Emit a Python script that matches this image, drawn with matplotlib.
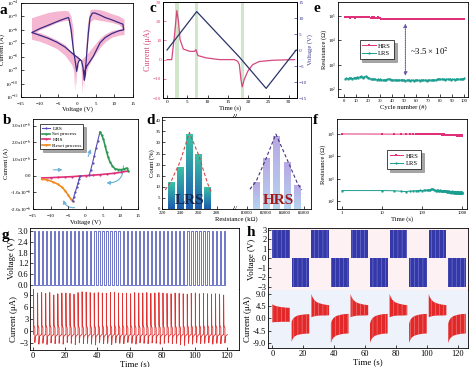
import numpy as np
import matplotlib
matplotlib.use('Agg')
import matplotlib.pyplot as plt
from matplotlib.patches import FancyArrowPatch
from matplotlib.colors import LinearSegmentedColormap

plt.rcParams['font.family'] = ['Liberation Serif', 'DejaVu Serif']
plt.rcParams['mathtext.fontset'] = 'stix'
plt.rcParams['xtick.direction'] = 'in'
plt.rcParams['ytick.direction'] = 'in'
plt.rcParams['xtick.major.size'] = 2
plt.rcParams['ytick.major.size'] = 2
plt.rcParams['xtick.minor.size'] = 1
plt.rcParams['ytick.minor.size'] = 1
plt.rcParams['xtick.major.width'] = 0.5
plt.rcParams['ytick.major.width'] = 0.5
plt.rcParams['axes.linewidth'] = 0.6
plt.rcParams['xtick.major.pad'] = 1.5
plt.rcParams['ytick.major.pad'] = 1.2
plt.rcParams['hatch.linewidth'] = 0.4

# ---------------- data ----------------
# (a) I-V, log current
a_dark_v = [0.8, -0.08, -1.42, -3.2, -5.44, -7.67, -9.9, -12.1, -9.9, -7.67, -5.9, -4.1, -2.31, -2.13, -1.6,
            -0.97, -0.45, -0.08, 0.25, 0.7, 1.2, 1.6, 1.98, 2.34, 2.69, 3.05, 3.5, 4.12, 4.84, 6.18, 7.52,
            9.3, 11.1, 12.3, 12.5, 11.1, 9.3, 7.52, 6.18, 5.28, 4.39, 3.5, 2.6, 2.2, 1.98]
a_dark_log = [-8.21, -8.01, -7.71, -7.28, -6.91, -6.63, -6.41, -6.2, -5.9, -5.65, -5.45, -5.25, -5.08, -5.2,
              -5.96, -7.46, -8.4, -9.09, -8.5, -8.2, -8.3, -8.8, -9.72, -8.71, -7.46, -6.21, -5.08, -4.75,
              -4.75, -4.9, -5.08, -5.25, -5.45, -5.58, -6.0, -6.08, -6.28, -6.58, -6.96, -7.46, -7.96,
              -8.34, -8.71, -9.0, -9.72]
a_band_ul_v = [-12.2, -10, -7.7, -5.4, -3.2, -2.3, -1.6, -1.0]
a_band_ul_lo = [-6.4, -6.0, -5.75, -5.45, -5.3, -5.3, -6.5, -8.0]
a_band_ul_hi = [-5.1, -4.9, -4.7, -4.6, -4.55, -4.6, -5.0, -6.0]
a_band_ll_v = [-12.2, -10, -7.7, -5.4, -3.2, -1.4, -0.6, 0.3]
a_band_ll_lo = [-6.7, -6.85, -7.1, -7.4, -7.9, -8.6, -9.3, -8.8]
a_band_ll_hi = [-6.1, -6.2, -6.45, -6.75, -7.1, -7.7, -8.0, -7.9]
a_band_ur_v = [2.3, 2.8, 3.5, 4.5, 6.2, 7.5, 9.3, 11.1, 12.6]
a_band_ur_lo = [-8.5, -7.0, -5.4, -5.2, -5.3, -5.35, -5.45, -5.6, -5.95]
a_band_ur_hi = [-7.5, -5.5, -4.5, -4.45, -4.5, -4.6, -4.8, -4.95, -5.2]
a_band_lr_v = [1.2, 2.0, 3.0, 4.4, 6.2, 7.5, 9.3, 11.1, 12.6]
a_band_lr_lo = [-9.6, -9.6, -8.7, -8.0, -7.3, -6.9, -6.55, -6.4, -6.35]
a_band_lr_hi = [-8.2, -8.0, -7.7, -7.2, -6.6, -6.3, -6.05, -5.95, -5.8]
a_spike_v = [-0.5, -0.2, 1.5, 1.9]
a_spike_log = [-10.6, -10.2, -10.8, -10.4]

# (b) linear I-V (uA)
b_lrs_neg_v = [-3.7, -3.3, -2.9, -2.5, -2.1, -1.8, -1.5]
b_lrs_neg_i = [-1.52, -1.25, -0.97, -0.7, -0.42, -0.2, 0.0]
b_lrs_pos_v = [1.1, 1.5, 2.0, 2.5, 3.0, 3.5, 4.1]
b_lrs_pos_i = [0.05, 0.35, 0.75, 1.2, 1.65, 2.1, 2.6]
b_set_v = [4.1, 4.6, 5.1, 5.6, 6.05, 6.5, 7.0, 7.7, 8.4, 9.3, 10.2, 11.0, 11.8, 12.2]
b_set_i = [2.6, 2.45, 2.2, 1.8, 1.41, 1.1, 0.81, 0.58, 0.42, 0.37, 0.36, 0.4, 0.46, 0.3]
b_hrs_v = [-12.5, -10, -8, -6, -4, -2, 0, 2, 4, 6, 8, 10, 12.2]
b_hrs_i = [-0.14, -0.12, -0.1, -0.08, -0.06, -0.03, 0.0, 0.03, 0.06, 0.1, 0.14, 0.2, 0.28]
b_reset_v = [-12.5, -11, -9.2, -8, -6.8, -5.8, -4.9, -4.2, -3.7]
b_reset_i = [-0.2, -0.25, -0.38, -0.5, -0.68, -0.9, -1.18, -1.4, -1.52]

# (c) time response
c_t = [0, 1.15, 1.8, 2.4, 2.8, 3.2, 4.0, 5.6, 6.8, 7.1, 7.6, 9.6, 12.9, 16.6, 17.4, 17.8, 18.2, 18.5,
       19.0, 19.9, 21.1, 22.7, 26.0, 31.4]
c_i = [0, 0, 12, 25.5, 20, 10.4, 5.5, 4.3, 4.3, 5.2, 2.1, 0.9, 0, 0, -0.9, -2.6, -10.4, -14.2, -10.4,
       -6, -2.6, -1, -0.35, 0]
c_vt = [0, 7.3, 17.8, 24.4, 31.8]
c_vv = [0, 12, -2.2, -12, 0]
c_bands = [(2.0, 2.9), (6.8, 7.7), (18.1, 18.9)]

# (d) histograms
d_lrs_bins = [230, 240, 250, 260, 270]
d_lrs_counts = [12, 19, 34, 25, 10]
d_hrs_bins = [81000, 82050, 83150, 84250, 85300]
d_hrs_counts = [12, 23, 33, 21, 11]
d_lrs_fit_x = [223.6, 230, 240, 250, 260, 270, 274.5]
d_lrs_fit_y = [8.6, 12.5, 21.5, 34.5, 24.5, 11.5, 7.2]
d_hrs_fit_x = [80350, 81000, 82050, 83050, 84250, 85300, 85750]
d_hrs_fit_y = [8.9, 12.5, 23, 33.8, 22, 11.5, 8.6]

# (e) cycling
e_cycles = list(range(1, 101))
e_hrs = [88000, 86000, 87000, 86000, 85000, 87000, 86000, 86000, 85000, 87000,
         86000, 88000, 87000, 86000, 88000, 87000, 86000, 88000, 89000, 87000,
         86000, 85000, 86000, 85000, 86000, 84000, 85000, 86000, 85000, 84000,
         74000, 73000, 74000, 73000, 73000, 72000, 73000, 74000, 73000, 73000,
         72000, 73000, 73000, 74000, 73000, 72000, 73000, 73000, 72000, 73000,
         73000, 74000, 73000, 72000, 73000, 73000, 72000, 73000, 74000, 73000,
         73000, 72000, 73000, 73000, 74000, 73000, 72000, 73000, 73000, 72000,
         73000, 74000, 73000, 73000, 72000, 73000, 74000, 73000, 72000, 73000,
         73000, 74000, 73000, 72000, 73000, 73000, 72000, 73000, 74000, 73000,
         73000, 72000, 73000, 74000, 73000, 73000, 72000, 73000, 74000, 73000]
e_lrs = [270, 280, 265, 275, 290, 280, 270, 285, 295, 300,
         310, 300, 320, 335, 310, 300, 325, 340, 310, 290,
         280, 260, 255, 250, 260, 255, 245, 250, 240, 250,
         245, 240, 235, 245, 240, 250, 265, 255, 245, 240,
         235, 240, 245, 235, 230, 240, 235, 245, 240, 230,
         225, 235, 230, 240, 225, 230, 235, 225, 230, 235,
         240, 230, 225, 235, 230, 240, 235, 230, 225, 235,
         240, 235, 230, 245, 240, 235, 250, 255, 260, 250,
         255, 260, 250, 245, 255, 260, 250, 255, 245, 250,
         255, 245, 250, 260, 255, 250, 260, 265, 270, 275]

# (f) retention
f_time = [1] + list(range(10, 1001, 10))
f_hrs = [97000, 96000, 95000, 96000, 95000, 96000, 95000, 94000, 95000, 96000, 95000,
         95000, 96000, 94000, 95000, 97000, 96000, 95000, 94000, 96000, 95000,
         94000, 95000, 93000, 94000, 95000, 93000, 92000, 94000, 93000, 92000,
         91000, 92000, 90000, 91000, 92000, 90000, 89000, 91000, 90000, 89000,
         88000, 90000, 89000, 88000, 87000, 89000, 88000, 87000, 86000, 88000,
         87000, 86000, 88000, 86000, 85000, 87000, 86000, 85000, 86000, 84000,
         85000, 86000, 84000, 85000, 83000, 85000, 84000, 83000, 85000, 84000,
         83000, 84000, 82000, 84000, 83000, 82000, 84000, 83000, 82000, 83000,
         82000, 84000, 83000, 81000, 83000, 82000, 81000, 83000, 82000, 81000,
         82000, 83000, 81000, 82000, 80000, 82000, 81000, 83000, 81000, 80000]
f_lrs = [300, 300, 295, 280, 270, 285, 290, 295, 300, 305, 300,
         310, 305, 315, 320, 310, 330, 345, 360, 340, 320,
         310, 300, 305, 295, 310, 300, 290, 305, 295, 300,
         290, 295, 285, 300, 290, 280, 295, 285, 275, 280,
         270, 285, 265, 275, 260, 280, 265, 270, 255, 260,
         270, 250, 265, 245, 260, 275, 250, 240, 260, 270,
         250, 235, 255, 265, 240, 230, 250, 270, 245, 235,
         260, 240, 225, 250, 270, 245, 230, 255, 240, 225,
         250, 265, 235, 225, 250, 240, 230, 255, 235, 230,
         245, 260, 230, 225, 250, 235, 240, 255, 230, 240]

# (g) pulse train
g_starts = [0.5, 3.0, 5.5, 8.0, 10.5, 13.0, 15.5, 18.0, 20.5, 23.0, 25.5, 28.0, 30.5, 33.0, 35.5, 38.0,
            40.5, 43.0, 45.5, 48.0, 50.5, 53.0, 55.5, 58.0, 60.5, 63.0, 65.5, 68.0, 70.5, 73.0, 75.5, 78.0,
            80.5, 83.0, 85.5, 88.0, 90.5, 93.0, 95.5, 98.0, 100.5, 103.0, 105.5, 108.0, 110.5, 113.0,
            115.5, 118.0]
g_peaks = [10.5, 9.5, 9.6, 9.4, 9.6, 9.0, 9.3, 9.5, 9.5, 9.4, 9.2, 9.6, 9.8, 9.7, 9.6, 9.5,
           9.6, 9.5, 9.4, 9.6, 9.7, 9.5, 9.4, 9.5, 9.3, 9.6, 9.5, 9.5, 9.6, 9.4, 9.5, 9.6,
           9.5, 9.4, 9.3, 9.5, 9.4, 9.3, 9.2, 9.4, 9.5, 9.3, 9.4, 9.3, 9.2, 9.3, 9.2, 9.0]
g_mins = [-2.8, -3.2, -3.0, -3.3, -2.9, -3.1, -3.0, -3.2, -2.8, -3.0, -3.3, -2.9, -3.1, -3.0, -3.2, -3.4,
          -2.9, -3.1, -3.0, -3.3, -2.9, -3.0, -3.1, -2.8, -3.0, -3.2, -2.9, -3.0, -3.1, -2.9, -3.0, -3.2,
          -3.0, -2.9, -3.1, -3.0, -3.3, -3.5, -3.0, -3.2, -2.9, -3.1, -3.0, -2.9, -3.2, -3.0, -3.1, -2.9]

# (h) bipolar blocks
h_starts = [0, 12.5, 25.3, 37.9, 50.6, 63.2, 75.9, 88.5, 101.2, 113.8]
h_signs = [1, -1, 1, -1, 1, -1, 1, -1, 1, -1]
h_frac = [0, 0.05, 0.15, 0.3, 0.5, 0.75, 1.0]
h_top = [[5.2, 5.0, 4.7, 4.4, 4.2, 4.0, 3.9],
         [-1.2, -0.4, 0.4, 1.0, 1.3, 1.5, 1.6],
         [9.0, 8.0, 6.9, 6.0, 5.5, 5.1, 4.9],
         [-1.9, -0.8, 0.2, 0.9, 1.3, 1.6, 1.7],
         [9.0, 8.0, 6.9, 6.0, 5.5, 5.1, 4.9],
         [-1.9, -0.8, 0.2, 0.9, 1.3, 1.6, 1.7],
         [9.0, 8.0, 6.9, 6.0, 5.5, 5.1, 4.9],
         [-1.9, -0.8, 0.2, 0.9, 1.3, 1.6, 1.7],
         [9.0, 8.0, 6.9, 6.0, 5.5, 5.1, 4.9],
         [-1.9, -0.8, 0.2, 0.9, 1.3, 1.6, 1.7]]
h_bot = [[-1.4, -1.4, -1.3, -1.3, -1.2, -1.2, -1.2],
         [-8.6, -7.6, -6.7, -6.1, -5.8, -5.6, -5.5],
         [0.4, 0.6, 0.8, 1.0, 1.1, 1.1, 1.2],
         [-9.0, -8.0, -7.0, -6.3, -5.9, -5.6, -5.5],
         [0.4, 0.6, 0.8, 1.0, 1.1, 1.1, 1.2],
         [-9.0, -8.0, -7.0, -6.3, -5.9, -5.6, -5.5],
         [0.4, 0.6, 0.8, 1.0, 1.1, 1.1, 1.2],
         [-9.0, -8.0, -7.0, -6.3, -5.9, -5.6, -5.5],
         [0.4, 0.6, 0.8, 1.0, 1.1, 1.1, 1.2],
         [-9.0, -8.0, -7.0, -6.3, -5.9, -5.6, -5.5]]

# ---------------- figure ----------------
W, H = 474, 367
fig = plt.figure(figsize=(W / 100, H / 100), dpi=100)


def R(l, t, r, b):
    return [l / W, 1 - b / H, (r - l) / W, (b - t) / H]


TS = 3.8   # small tick font
LS = 4.8   # small label font
BT = 6.0   # big panels tick font
BL = 6.3   # big panels label font

PINK = '#e0307a'
TEAL = '#1a9e8f'

# ---- (a)
axa = fig.add_axes(R(21, 3, 133, 97))
axa.set_yscale('log')
for v, lo, hi in [(a_band_ul_v, a_band_ul_lo, a_band_ul_hi), (a_band_ll_v, a_band_ll_lo, a_band_ll_hi),
                  (a_band_ur_v, a_band_ur_lo, a_band_ur_hi), (a_band_lr_v, a_band_lr_lo, a_band_lr_hi)]:
    axa.fill_between(v, 10 ** np.array(lo), 10 ** np.array(hi), color='#f3a9c9', alpha=0.85, lw=0)
for v, lg in zip(a_spike_v, a_spike_log):
    axa.fill([v - 0.35, v, v + 0.35], [10 ** -8.3, 10 ** lg, 10 ** -8.3], color='#f0b8d0', lw=0)
axa.plot(a_dark_v, 10 ** np.array(a_dark_log), color='#3b2a85', lw=0.9)
axa.set_xlim(-15, 15)
axa.set_ylim(1e-11, 1e-4)
axa.set_xticks([-15, -10, -5, 0, 5, 10, 15])
axa.set_yticks([10.0 ** k for k in range(-11, -3)])
axa.set_yticklabels([r'$10^{%d}$' % k for k in range(-11, -3)])
axa.minorticks_off()
axa.tick_params(labelsize=TS)
axa.tick_params(axis='x', pad=3.6, labelsize=3.6)
axa.tick_params(axis='y', pad=1.6)
axa.set_xlabel('Voltage (V)', fontsize=LS, labelpad=0.5)
axa.set_ylabel('Current (A)', fontsize=LS, labelpad=0.3)

# ---- (c)
axc = fig.add_axes(R(163, 2, 297, 98))
for s, e in c_bands:
    axc.axvspan(s, e, color='#cfe6c8', lw=0, zorder=0)
axc.plot(c_t, c_i, color='#d4487e', lw=0.9)
axc.set_xlim(-1, 32)
axc.set_ylim(-20, 30)
axc.set_xticks([0, 5, 10, 15, 20, 25, 30])
axc.set_yticks([-20, -10, 0, 10, 20, 30])
axc.tick_params(labelsize=TS)
axc.tick_params(axis='y', colors='#d4487e')
axc.set_xlabel('Time (s)', fontsize=LS, labelpad=1)
axc.set_ylabel('Current (μA)', fontsize=LS + 1, color='#d4487e', labelpad=0.5)
axc2 = axc.twinx()
axc2.plot(c_vt, c_vv, color='#2b3468', lw=0.9)
axc2.set_ylim(-15, 15)
axc2.set_yticks([-15, -10, -5, 0, 5, 10, 15])
axc2.tick_params(labelsize=TS, colors='#3a3a90', direction='in')
axc2.set_ylabel('Voltage (V)', fontsize=LS, color='#3a3a90', labelpad=0.5)

# ---- (e)
axe = fig.add_axes(R(338, 2, 468, 97))
axe.set_yscale('log')
axe.plot(e_cycles, e_hrs, color=PINK, lw=0.7, marker='s', ms=1.6, mew=0, label='HRS')
axe.plot(e_cycles, e_lrs, color=TEAL, lw=0.7, marker='p', ms=1.9, mew=0, label='LRS')
axe.set_xlim(-5, 103)
axe.set_ylim(48, 3.7e5)
axe.set_xticks(range(0, 101, 10))
axe.set_yticks([1e2, 1e3, 1e4, 1e5])
axe.minorticks_off()
axe.tick_params(labelsize=TS - 0.4)
axe.set_xlabel('Cycle number (#)', fontsize=LS, labelpad=1)
axe.set_ylabel('Resistance (Ω)', fontsize=LS, labelpad=0.5)
axe.legend(loc='center left', bbox_to_anchor=(0.14, 0.5), fontsize=4.8, frameon=True, fancybox=False,
           shadow=True, edgecolor='black', handlelength=2, borderpad=0.4, labelspacing=0.3,
           handletextpad=0.4).get_frame().set_linewidth(0.5)
axe.annotate('', xy=(51, 6.3e4), xytext=(51, 270),
             arrowprops=dict(arrowstyle='<|-|>', color='#6a5aa8', lw=0.8, ls=(0, (1, 1)),
                             mutation_scale=5))
axe.text(55, 3400, r'~3.5 × 10$^2$', fontsize=6.3, va='center')

# ---- (b)
axb = fig.add_axes(R(33, 119, 138, 209))
axb.plot(b_hrs_v, b_hrs_i, color=PINK, lw=1.2, marker='o', ms=1.6, mew=0, label='HRS', zorder=3)
axb.plot(b_reset_v, b_reset_i, color='#f08a20', lw=1.2, marker='o', ms=1.6, mew=0, label='Reset process',
         zorder=3)
axb.plot(b_lrs_neg_v, b_lrs_neg_i, color='#5a4fb8', lw=0.8, marker='o', ms=1.6, mew=0, label='LRS', zorder=3)
axb.plot(b_lrs_pos_v, b_lrs_pos_i, color='#5a4fb8', lw=0.8, marker='o', ms=1.6, mew=0, zorder=3)
axb.plot(b_set_v, b_set_i, color='#2f9a55', lw=1.2, marker='o', ms=1.6, mew=0, label='Set process', zorder=3)
axb.set_xlim(-15, 15)
axb.set_ylim(-2.0, 3.4)
axb.set_xticks([-15, -10, -5, 0, 5, 10, 15])
axb.set_yticks([-2, -1, 0, 1, 2, 3])
axb.set_yticklabels([r'-2.0x10$^{-6}$', r'-1.0x10$^{-6}$', '0.0', r'1.0x10$^{-6}$', r'2.0x10$^{-6}$',
                     r'3.0x10$^{-6}$'])
axb.tick_params(labelsize=3.6)
axb.tick_params(axis='x', pad=3.8)
axb.set_xlabel('Voltage (V)', fontsize=LS, labelpad=0.5)
axb.set_ylabel('Current (A)', fontsize=LS, labelpad=0.5)
h_, l_ = axb.get_legend_handles_labels()
order = [l_.index(n) for n in ['LRS', 'Set process', 'HRS', 'Reset process']]
lgb = axb.legend([h_[i] for i in order], [l_[i] for i in order], loc='upper left', fontsize=3.9,
                 frameon=True, fancybox=False, shadow=True, edgecolor='black', handlelength=1.6,
                 borderpad=0.3, labelspacing=0.15, handletextpad=0.4, bbox_to_anchor=(0.04, 0.97))
lgb.get_frame().set_linewidth(0.5)
ac = '#6ab0d8'
for p0, p1, cs in [((-10.0, 0.35), (-5.8, 0.35), 'arc3'),
                   ((0.5, 1.0), (1.8, 1.75), 'arc3'),
                   ((10.8, 0.75), (5.2, -0.42), 'arc3,rad=-0.6'),
                   ((-2.3, -1.9), (-6.5, -1.3), 'arc3,rad=-0.5')]:
    axb.add_patch(FancyArrowPatch(p0, p1, connectionstyle=cs, arrowstyle='-|>', mutation_scale=5,
                                  color=ac, lw=0.8))

# ---- (d)
lrs_top, lrs_bot = '#3cc3a5', '#1a5ab0'
hrs_top, hrs_bot = '#b8a8e2', '#b4d4f2'
axd1 = fig.add_axes(R(162, 117, 235, 209))
axd2 = fig.add_axes(R(235, 117, 311, 209))
grad = np.linspace(0, 1, 64).reshape(-1, 1)
for ax, bins, counts, w, ct, cb in [(axd1, d_lrs_bins, d_lrs_counts, 7.3, lrs_top, lrs_bot),
                                    (axd2, d_hrs_bins, d_hrs_counts, 700, hrs_top, hrs_bot)]:
    cmap = LinearSegmentedColormap.from_list('g', [cb, ct])
    bars = ax.bar(bins, counts, w, color='none', edgecolor='none')
    for b_, x_, c_ in zip(bars, bins, counts):
        im = ax.imshow(grad, extent=[x_ - w / 2, x_ + w / 2, 0, c_], origin='lower', aspect='auto',
                       cmap=cmap, zorder=2)
        im.set_clip_path(b_)
axd1.plot(d_lrs_fit_x, d_lrs_fit_y, color='#d04848', lw=0.8, ls=(0, (3, 2)), zorder=3)
axd2.plot(d_hrs_fit_x, d_hrs_fit_y, color='#4a3080', lw=0.8, ls=(0, (3, 2)), zorder=3)
axd1.set_xlim(220, 300)
axd2.set_xlim(78800, 86700)
for ax in (axd1, axd2):
    ax.set_ylim(0, 41.5)
    ax.tick_params(labelsize=3.5)
axd1.set_xticks([220, 240, 260, 280])
axd2.set_xticks([80000, 82000, 84000, 86000])
axd1.set_yticks(range(0, 41, 5))
axd2.set_yticks([])
axd1.spines['right'].set_visible(False)
axd2.spines['left'].set_visible(False)
axd1.set_ylabel('Count (%)', fontsize=LS, labelpad=0.5)
fig.text((162 + 311) / 2 / W, 1 - 219 / H, 'Resistance (kΩ)', fontsize=LS, ha='center', va='center')
for ax, xx in [(axd1, 1.0), (axd2, 0.0)]:
    for yy in (0.0, 1.0):
        ax.text(xx, yy, '//', transform=ax.transAxes, fontsize=5, ha='center', va='center', clip_on=False)
axd1.text(250, 4, 'LRS', fontsize=11, fontweight='bold', color='#16284e', ha='center', va='center',
          zorder=5)
axd2.text(83300, 4, 'HRS', fontsize=11, fontweight='bold', color='#a01818', ha='center', va='center',
          zorder=5)

# ---- (f)
axf = fig.add_axes(R(337, 119, 467, 209))
axf.set_xscale('log')
axf.set_yscale('log')
axf.plot(f_time, f_hrs, color=PINK, lw=0.7, marker='s', ms=1.6, mew=0, label='HRS')
axf.plot(f_time, f_lrs, color=TEAL, lw=0.7, marker='p', ms=1.9, mew=0, label='LRS')
axf.set_xlim(0.75, 1330)
axf.set_ylim(10 ** 1.66, 10 ** 5.65)
axf.set_xticks([1, 10, 100, 1000])
axf.set_xticklabels(['1', '10', '100', '1000'])
axf.set_yticks([1e2, 1e3, 1e4, 1e5])
axf.minorticks_off()
axf.tick_params(labelsize=TS - 0.4)
axf.set_xlabel('Time (s)', fontsize=LS, labelpad=1)
axf.set_ylabel('Resistance (Ω)', fontsize=LS, labelpad=0.5)
axf.legend(loc='center left', bbox_to_anchor=(0.36, 0.55), fontsize=4.8, frameon=True, fancybox=False,
           shadow=True, edgecolor='black', handlelength=2, borderpad=0.4, labelspacing=0.3,
           handletextpad=0.4).get_frame().set_linewidth(0.5)

# ---- (g)
gw = 0.8
axg1 = fig.add_axes(R(30, 228, 239, 289))
axg2 = fig.add_axes(R(30, 289, 239, 350), sharex=axg1)
vx, vy = [], []
for s in g_starts:
    vx += [s, s, s + gw, s + gw]
    vy += [0, 3, 3, 0]
axg1.plot(vx, vy, color='#5a60c0', lw=0.6)
cx, cy = [], []
for s, p, m in zip(g_starts, g_peaks, g_mins):
    cx += [s, s, s + 0.15, s + gw, s + gw, s + gw + 0.3, s + 2.3]
    cy += [-0.8, p, 1.5, 0.8, m, -1.3, -0.8]
axg2.plot(cx, cy, color='#e03030', lw=0.6)
axg1.set_xlim(-1.7, 127.5)
axg1.set_ylim(-0.22, 3.17)
axg2.set_ylim(-4.66, 10.49)
axg1.set_yticks([0.0, 0.6, 1.2, 1.8, 2.4, 3.0])
axg1.set_yticklabels(['0.0', '0.6', '1.2', '1.8', '2.4', '3.0'])
axg2.set_yticks([-3, 0, 3, 6, 9])
axg2.set_xticks([0, 20, 40, 60, 80, 100, 120])
axg1.tick_params(labelbottom=False, bottom=False, labelsize=BT)
axg2.tick_params(labelsize=BT)
axg1.spines['bottom'].set_visible(False)
axg2.spines['top'].set_visible(False)
axg1.set_ylabel('Voltage (V)', fontsize=BL, labelpad=1)
axg2.set_ylabel('Current (μA)', fontsize=BL, labelpad=1)
axg2.set_xlabel('Time (s)', fontsize=BL, labelpad=0)

# ---- (h)
hL = 11.4
axh1 = fig.add_axes(R(268, 228, 468, 290))
axh2 = fig.add_axes(R(268, 290, 468, 348), sharex=axh1)
axh1.set_facecolor('#fdf1f4')
axh2.set_facecolor('#eef2fa')
for s, sg in zip(h_starts, h_signs):
    axh1.fill_between([s, s + hL], [0, 0], [3 * sg, 3 * sg], facecolor='#3438a8', edgecolor='#7a82d8',
                      lw=0, hatch='||||')
for s, top, bot in zip(h_starts, h_top, h_bot):
    xs = [s + f * hL for f in h_frac]
    axh2.fill_between(xs, bot, top, facecolor='#e22828', edgecolor='#f28a8a', lw=0, hatch='||||')
axh1.set_xlim(-2.8, 126.6)
axh1.set_ylim(-3.32, 3.21)
axh2.set_ylim(-10.84, 10.47)
axh1.set_yticks([-3, -2, -1, 0, 1, 2, 3])
axh2.set_yticks([-9, -4.5, 0, 4.5, 9])
axh2.set_yticklabels(['-9.0', '-4.5', '0.0', '4.5', '9.0'])
axh2.set_xticks([0, 20, 40, 60, 80, 100, 120])
axh1.tick_params(labelbottom=False, bottom=False, labelsize=BT)
axh2.tick_params(labelsize=BT)
axh1.spines['bottom'].set_visible(False)
axh2.spines['top'].set_visible(False)
axh1.set_ylabel('Voltage (V)', fontsize=BL, labelpad=1)
axh2.set_ylabel('Current (μA)', fontsize=BL, labelpad=1)
axh2.set_xlabel('Time (s)', fontsize=BL, labelpad=0)

# ---- panel letters
for t, x, y in [('a', 0, 10), ('b', 3, 121), ('c', 150, 8), ('d', 146, 121), ('e', 314, 8),
                ('f', 313, 121), ('g', 2, 236), ('h', 247, 232)]:
    fig.text(x / W, 1 - y / H, t, fontsize=11, fontweight='bold', ha='left', va='center')

fig.savefig('out.png', dpi=100)
